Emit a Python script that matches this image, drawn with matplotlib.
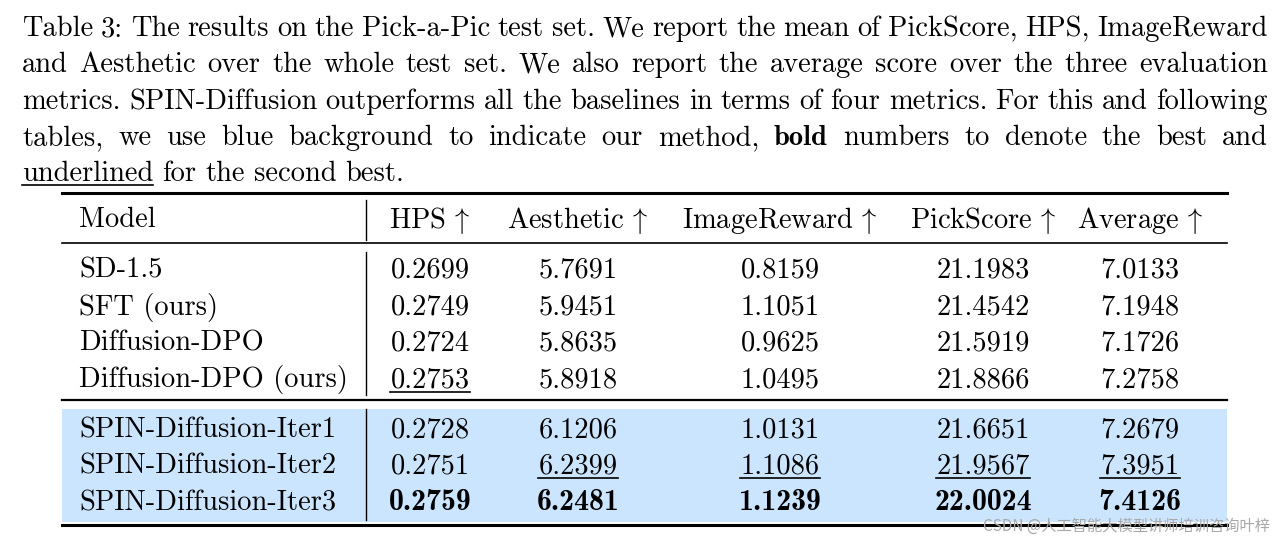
import matplotlib
matplotlib.use("Agg")
import matplotlib.pyplot as plt
from matplotlib.patches import Rectangle

plt.rcParams['mathtext.fontset'] = 'cm'
plt.rcParams['axes.unicode_minus'] = False

caption_lines = [
    "Table 3: The results on the Pick-a-Pic test set. We report the mean of PickScore, HPS, ImageReward",
    "and Aesthetic over the whole test set. We also report the average score over the three evaluation",
    "metrics. SPIN-Diffusion outperforms all the baselines in terms of four metrics. For this and following",
    "tables, we use blue background to indicate our method, **bold numbers to denote the best and",
    "__underlined for the second best.",
]
headers = ["Model", "HPS", "Aesthetic", "ImageReward", "PickScore", "Average"]
models = ["SD-1.5", "SFT (ours)", "Diffusion-DPO", "Diffusion-DPO (ours)",
          "SPIN-Diffusion-Iter1", "SPIN-Diffusion-Iter2", "SPIN-Diffusion-Iter3"]
values = [
    ["0.2699", "5.7691", "0.8159", "21.1983", "7.0133"],
    ["0.2749", "5.9451", "1.1051", "21.4542", "7.1948"],
    ["0.2724", "5.8635", "0.9625", "21.5919", "7.1726"],
    ["0.2753", "5.8918", "1.0495", "21.8866", "7.2758"],
    ["0.2728", "6.1206", "1.0131", "21.6651", "7.2679"],
    ["0.2751", "6.2399", "1.1086", "21.9567", "7.3951"],
    ["0.2759", "6.2481", "1.1239", "22.0024", "7.4126"],
]
bold_cells = {(6, c) for c in range(5)}
under_cells = {(3, 0), (5, 1), (5, 2), (5, 3), (5, 4)}

W, H = 1286, 547
fig = plt.figure(figsize=(W/100, H/100), dpi=100)
ax = fig.add_axes([0, 0, 1, 1])
ax.set_xlim(0, W); ax.set_ylim(H, 0); ax.axis('off')
fig.canvas.draw()
r = fig.canvas.get_renderer()
FS = 20.5
DY = 2

def width(t):
    return t.get_window_extent(renderer=r).width

def underline(x0, x1, y):
    ax.plot([x0, x1], [y, y], color='black', lw=1.2)

L, R = 22, 1268
ys = [27, 63, 100, 136, 172]
for i, line in enumerate(caption_lines):
    words = line.split(" ")
    items = []
    for w in words:
        fam = 'cmr10'; ul = False
        if w.startswith("**"):
            w = w[2:]; fam = 'cmb10'
        if w.startswith("__"):
            w = w[2:]; ul = True
        t = ax.text(0, ys[i] + DY, w, family=fam, fontsize=FS, va='center', ha='left')
        items.append((t, width(t), ul))
    tot = sum(it[1] for it in items)
    last = i == len(caption_lines) - 1
    gap = 9 if last else (R - L - tot) / (len(items) - 1)
    x = L
    for t, wd, ul in items:
        t.set_x(x)
        if ul:
            underline(x, x + wd, ys[i] + 13)
        x += wd + gap

X0, X1 = 62, 1227
ax.add_patch(Rectangle((X0, 409), X1 - X0, 113, color='#cce5ff', lw=0, zorder=0))
ax.plot([X0, X1], [193, 193], color='black', lw=2.2)
ax.plot([X0, X1], [243, 243], color='black', lw=1.2)
ax.plot([X0, X1], [400, 400], color='black', lw=1.6)
ax.plot([X0, X1], [525, 525], color='black', lw=2.2)
for (a, b) in [(200, 240), (252, 395), (409, 520)]:
    ax.plot([366, 366], [a, b], color='black', lw=1.0)

colx = [430, 578, 780, 983, 1140]
ax.text(79, 218 + DY, headers[0], family='cmr10', fontsize=FS, va='center', ha='left')
for j, h in enumerate(headers[1:]):
    ax.text(colx[j], 218 + DY, h + r"$\,\uparrow$", family='cmr10', fontsize=FS, va='center', ha='center')

rowy = [268, 305, 341, 378, 428, 464, 501]
for i, m in enumerate(models):
    ax.text(79, rowy[i] + DY, m, family='cmr10', fontsize=FS, va='center', ha='left')
    for j, v in enumerate(values[i]):
        bold = (i, j) in bold_cells
        fam = 'cmb10' if bold else 'cmr10'
        t = ax.text(colx[j], rowy[i] + DY, v, family=fam, fontsize=FS + (1 if bold else 0),
                    va='center', ha='center')
        if (i, j) in under_cells:
            wd = width(t)
            underline(colx[j] - wd/2, colx[j] + wd/2, rowy[i] + 14)

ax.text(1270, 526, "CSDN @人工智能大模型讲师培训咨询叶梓", family=['Noto Sans CJK SC', 'DejaVu Sans'],
        fontsize=11, color='#a8a8a8', ha='right', va='center')

fig.savefig("out.png", dpi=100)
